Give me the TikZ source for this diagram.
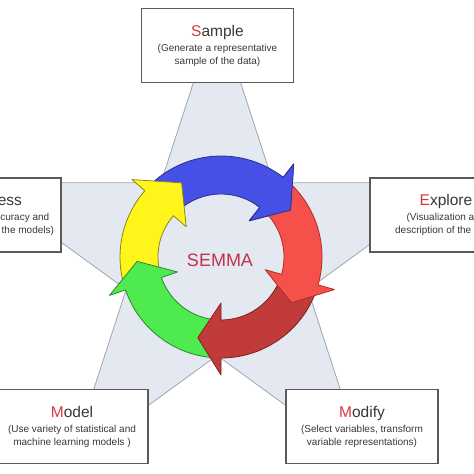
\documentclass[tikz,border=0pt]{standalone}
\usepackage{fontspec}
\setmainfont{Liberation Sans}

\definecolor{starfill}{HTML}{E4E9F1}
\definecolor{starline}{HTML}{9EA6B0}
\definecolor{boxline}{HTML}{5A5A5A}
\definecolor{txt}{HTML}{383838}
\definecolor{initial}{HTML}{D8363C}
\definecolor{semmared}{HTML}{C4304A}
\definecolor{sblue}{HTML}{4650E6}   \definecolor{sblueline}{HTML}{2A2F8C}
\definecolor{sred}{HTML}{F5514A}    \definecolor{sredline}{HTML}{B02A2A}
\definecolor{sbrick}{HTML}{C23B3B}  \definecolor{sbrickline}{HTML}{7E2020}
\definecolor{sgreen}{HTML}{4EEA4E}  \definecolor{sgreenline}{HTML}{2A8A2A}
\definecolor{syellow}{HTML}{FFF51A} \definecolor{syellowline}{HTML}{8A8420}

\tikzset{
  stage/.style={draw=boxline, line width=1.3pt, fill=white, minimum width=152pt,
    minimum height=74pt, align=center, text=txt, inner sep=0pt,
    font=\fontsize{10}{13}\selectfont},
  starshape/.style={fill=starfill, draw=starline, line width=0.8pt, line join=miter},
}
% title line of a stage box: coloured first letter, then the rest
\newcommand\stagetitle[2]{{\fontsize{15.5}{17}\selectfont\textcolor{initial}{#1}#2}\\[2pt]}
% one arrow of the ring: fill, outline, tail angle, head base angle, tip angle
\newcommand\ringarrow[5]{%
  \filldraw[fill=#1, draw=#2, line width=0.8pt, line join=round]
    (#3:101) arc[start angle=#3, end angle=#4, radius=101] -- (#4:118) -- (#5:84)
    -- (#4:46) -- (#4:63) arc[start angle=#4, end angle=#3, radius=63] -- cycle;}

\begin{document}
\begin{tikzpicture}[x=1pt, y=-1pt]
  \useasboundingbox (0,0) rectangle (474,474);
  \clip (0,0) rectangle (474,474);

  % star behind everything
  \begin{scope}[shift={(217,260)}, yscale=-1]
    \filldraw[starshape] (90:250) \foreach \a in {0,72,...,288} { -- ({126+\a}:95.5) -- ({162+\a}:250) } -- cycle;
  \end{scope}

  \node[stage] (sample)  at (217.5,45.5) {\stagetitle{S}{ample}(Generate a representative\\sample of the data)};
  \node[stage] (explore) at (446,215)    {\stagetitle{E}{xplore}(Visualization and\\description of the data)};
  \node[stage] (modify)  at (362,426.5)  {\stagetitle{M}{odify}(Select variables, transform\\variable representations)};
  \node[stage] (model)   at (72,426.5)   {\stagetitle{M}{odel}(Use variety of statistical and\\machine learning models )};
  \node[stage, minimum width=128pt] (assess) at (-3,215) {\stagetitle{A}{ssess}(Evaluate accuracy and\\usefulness of the models)};

  % ring of arrows
  \begin{scope}[shift={(221,257)}, yscale=-1]
    \def\ring {sblue/sblueline/133/52/34, syellow/syellowline/193/139/118,
      sgreen/sgreenline/264/199/183, sbrick/sbrickline/338/270/254,
      sred/sredline/46/-16/-33}  % fill/outline/tail/base/tip
    \foreach \fc/\lc/\s/\b/\t in \ring
    {	\ringarrow{\fc}{\lc}{\s}{\b}{\t}
    }
    % blue head lies over the red tail
    \begin{scope}
      \clip (0,0) -- (56:140) arc[start angle=56, end angle=15, radius=140] -- cycle;
      \ringarrow{sblue}{sblueline}{133}{52}{34}
    \end{scope}
  \end{scope}

  \node[text=semmared, font=\fontsize{18}{20}\selectfont] (semma) at (220,260) {SEMMA};
\end{tikzpicture}
\end{document}
